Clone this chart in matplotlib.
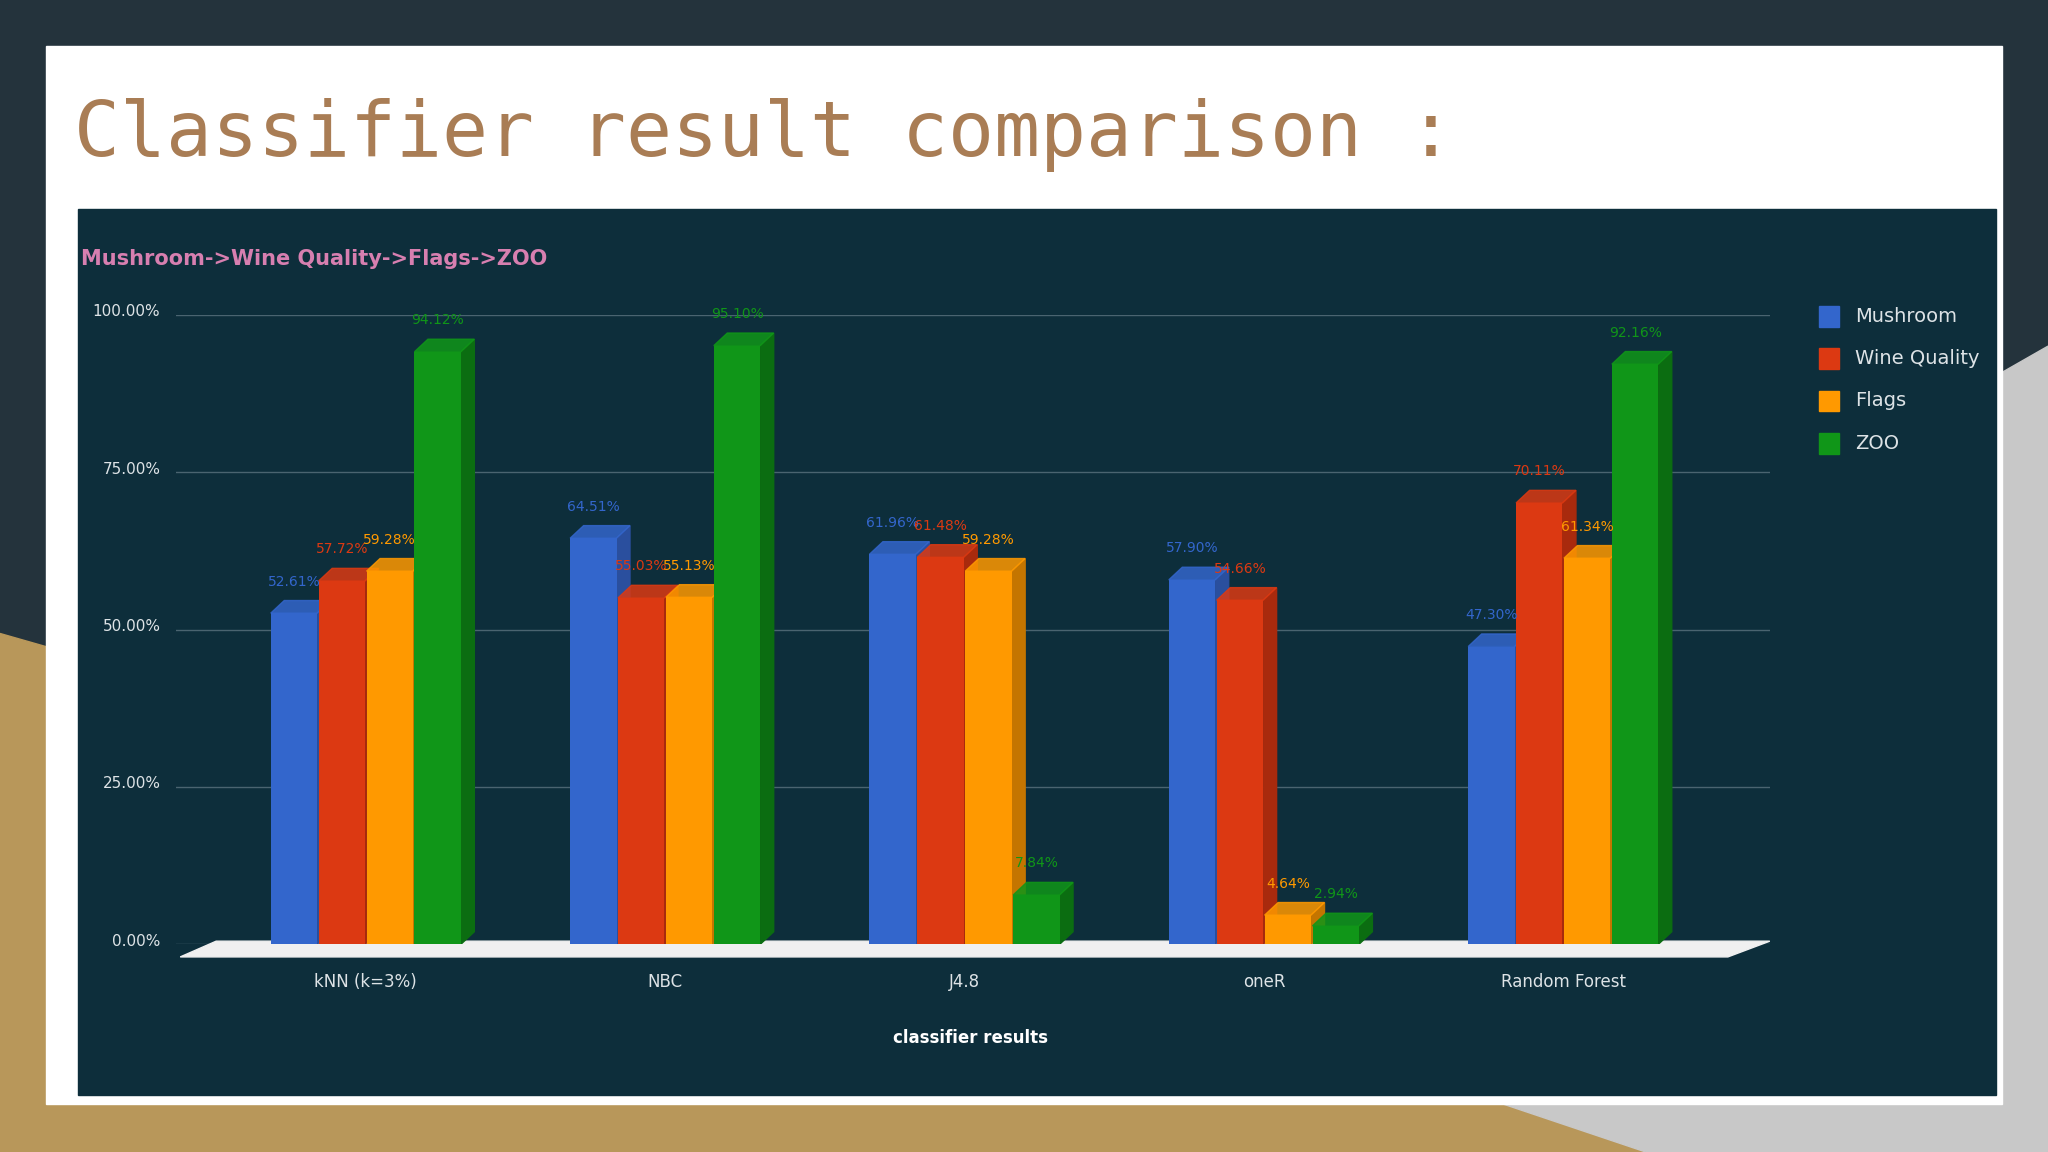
import matplotlib
matplotlib.use("Agg")
import matplotlib.pyplot as plt
from matplotlib.patches import Polygon, Rectangle

categories = ["kNN (k=3%)", "NBC", "J4.8", "oneR", "Random Forest"]
series = ["Mushroom", "Wine Quality", "Flags", "ZOO"]
mushroom = [52.61, 64.51, 61.96, 57.90, 47.30]
wine = [57.72, 55.03, 61.48, 54.66, 70.11]
flags = [59.28, 55.13, 59.28, 4.64, 61.34]
zoo = [94.12, 95.10, 7.84, 2.94, 92.16]
values = [mushroom, wine, flags, zoo]
colors = ["#3366cc", "#dc3912", "#ff9900", "#109618"]
sides = ["#2a4f9e", "#a82a0d", "#c47500", "#0b6d11"]
yticks = [0, 25, 50, 75, 100]

W, H = 1568, 882
fig = plt.figure(figsize=(20.48, 11.52), dpi=100)
fig.patch.set_facecolor("#24333c")
bg = fig.add_axes([0, 0, 1, 1]); bg.set_xlim(0, W); bg.set_ylim(H, 0); bg.axis("off")
bg.add_patch(Polygon([[0, 485], [0, 882], [1260, 882], [1150, 845], [35, 845], [35, 495]], color="#b8975a"))
bg.add_patch(Polygon([[1533, 285], [1568, 265], [1568, 882], [1260, 882], [1150, 845], [1533, 845]], color="#c8c8c8"))
bg.add_patch(Rectangle((35, 35), 1498, 810, color="white"))
bg.add_patch(Rectangle((60, 160), 1468, 678, color="#0d2e3b"))
bg.text(57, 103, "Classifier result comparison :", fontsize=55, family="DejaVu Sans Mono",
        color="#a97d55", va="center")
bg.text(62, 198, "Mushroom->Wine Quality->Flags->ZOO", fontsize=15, color="#d77fb0",
        fontweight="bold", va="center")
bg.text(743, 795, "classifier results", fontsize=12, color="white", fontweight="bold", ha="center", va="center")
for i, s in enumerate(series):
    y = 242 + i * 32.5
    bg.add_patch(Rectangle((1393, y - 8), 15, 16, color=colors[i]))
    bg.text(1420, y, s, fontsize=14, color="#dde3e6", va="center")

ax = fig.add_axes([135 / W, 1 - 723 / H, 1220 / W, (723 - 241) / H])
ax.set_facecolor("none")
ax.set_xlim(-0.633, 4.69); ax.set_ylim(0, 100)
for sp in ax.spines.values(): sp.set_visible(False)
ax.set_xticks([]); ax.set_yticks([])
for t in yticks:
    ax.axhline(t, color="#4a6470", lw=1, zorder=0)
    ax.text(-0.01, t + 0.5, f"{t:.2f}%", transform=ax.get_yaxis_transform(), ha="right", va="center",
            fontsize=11, color="#dde3e6")
ax.add_patch(Polygon([[-0.62, -2], [4.55, -2], [4.69, 0.5], [-0.5, 0.5]], color="#f0f0f0", clip_on=False, zorder=1))
bw = 0.155; dx = 0.045; dy = 2.0
for j, cat in enumerate(categories):
    ax.text(j, -6, cat, ha="center", va="center", fontsize=12, color="#dde3e6")
    for i in range(4):
        v = values[i][j]
        x0 = j + (i - 2) * 0.16 - bw / 2 + 0.08
        ax.add_patch(Polygon([[x0 + bw, 0], [x0 + bw + dx, dy], [x0 + bw + dx, v + dy], [x0 + bw, v]],
                             color=sides[i], zorder=2 + i))
        ax.add_patch(Polygon([[x0, v], [x0 + dx, v + dy], [x0 + bw + dx, v + dy], [x0 + bw, v]],
                             color=colors[i], zorder=2 + i, alpha=0.85))
        ax.bar(x0, v, width=bw, align="edge", color=colors[i], zorder=2 + i)
        ax.text(x0 + bw / 2, v + 5, f"{v:.2f}%", ha="center", va="center", fontsize=10,
                color=colors[i], zorder=10)
fig.savefig("out.png", dpi=100, facecolor=fig.get_facecolor())
